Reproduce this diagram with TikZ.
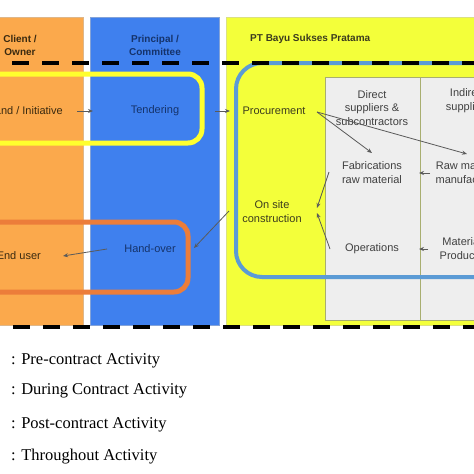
\documentclass[tikz,border=0pt]{standalone}
\usepackage{fontspec}
\setmainfont{Liberation Sans}
\newfontfamily\legendfont{Liberation Serif}
\usetikzlibrary{arrows.meta}
\definecolor{colOrange}{HTML}{FBA94C}
\definecolor{colBlue}{HTML}{3F80EE}
\definecolor{colYellow}{HTML}{F3FF3A}
\definecolor{loopYellow}{HTML}{FFFF2E}
\definecolor{loopOrange}{HTML}{EC7D3A}
\definecolor{loopBlue}{HTML}{5B9BD5}
\definecolor{boxGrey}{HTML}{EEEEEE}
\definecolor{boxEdge}{HTML}{A8AE70}
\definecolor{txtBrown}{HTML}{3A2A10}
\definecolor{txtNavy}{HTML}{15336B}
\definecolor{txtOlive}{HTML}{3C3C1E}
\definecolor{txtGrey}{HTML}{404040}
\definecolor{arrGrey}{HTML}{5A5A5A}
\tikzset{
  column/.style={draw=#1!80!black!60, line width=0.6pt},
  greybox/.style={fill=boxGrey, draw=boxEdge, line width=1pt},
  loopline/.style={line width=5pt, rounded corners=14pt},
  dashline/.style={line width=4pt, dash pattern=on 17pt off 13pt},
  head/.style={font=\fontsize{10}{13}\selectfont\bfseries, align=center, inner sep=0pt},
  lbl/.style={font=\fontsize{11}{14}\selectfont, align=center, inner sep=0pt},
  legend/.style={font=\legendfont\fontsize{16.5}{18}\selectfont, anchor=base west, inner sep=0pt, text=black},
  arr/.style={draw=arrGrey, line width=0.8pt, -{Stealth[length=5pt,width=4pt]}}
}
\begin{document}
\begin{tikzpicture}[x=1pt,y=-1pt]
\useasboundingbox (0,0) rectangle (474,474);
\fill[white] (0,0) rectangle (474,474);
\begin{scope}
\clip (0,0) rectangle (474,474);
% columns
\draw[column=colOrange, fill=colOrange] (-5,17) rectangle (83,325);
\draw[column=colBlue, fill=colBlue] (90,17) rectangle (219,325);
\draw[column=colYellow, fill=colYellow] (226,17) rectangle (480,325);
% grey boxes
\draw[greybox] (325,77) rectangle (420,320);
\draw[greybox] (420,77) rectangle (485,320);
% loops
\draw[line width=4pt, draw=loopBlue, rounded corners=26pt] (490,63) -- (236,63) -- (236,277) -- (490,277);
\draw[loopline, draw=loopYellow] (-20,74) -- (202,74) -- (202,143) -- (-20,143);
\draw[loopline, draw=loopOrange] (-20,222) -- (188,222) -- (188,292) -- (-20,292);
% dashed lines
\draw[dashline] (12,63) -- (480,63);
\draw[dashline] (13,327) -- (480,327);
% headers
\node[head, text=txtBrown] (client) at (20,45.5) {Client /\\Owner};
\node[head, text=txtNavy] (principal) at (155,45.5) {Principal /\\Committee};
\node[head, text=txtOlive, anchor=west] (pt) at (250,39) {PT Bayu Sukses Pratama};
% nodes
\node[lbl, text=txtBrown, anchor=east] (init) at (63,111) {Demand / Initiative};
\node[lbl, text=txtNavy] (tend) at (155,111) {Tendering};
\node[lbl, text=txtOlive] (proc) at (274,111) {Procurement};
\node[lbl, text=txtGrey, font=\fontsize{11}{13.5}\selectfont] (direct) at (372,108) {Direct\\suppliers \&\\subcontractors};
\node[lbl, text=txtGrey] (indirect) at (468,101) {Indirect\\suppliers};
\node[lbl, text=txtGrey] (fab) at (372,173) {Fabrications\\raw material};
\node[lbl, text=txtGrey] (rawman) at (468,173) {Raw material\\manufacturer};
\node[lbl, text=txtOlive] (onsite) at (272,212) {On site\\construction};
\node[lbl, text=txtGrey] (ops) at (372,249) {Operations};
\node[lbl, text=txtGrey] (matprod) at (462,249) {Material\\Producer};
\node[lbl, text=txtNavy] (handover) at (150,249) {Hand-over};
\node[lbl, text=txtBrown, anchor=east] (enduser) at (41,256) {End user};
% arrows
\draw[arr] ([xshift=14pt]init.east) -- ([xshift=-62pt]tend.center);
\draw[arr] ([xshift=60pt]tend.center) -- ([xshift=-44pt]proc.center);
\draw[arr] ([xshift=43pt,yshift=-1pt]proc.center) -- ([yshift=20pt]fab.center);
\draw[arr] ([xshift=43pt,yshift=-1pt]proc.center) -- ([xshift=-1pt,yshift=19pt]rawman.center);
\draw[arr] ([xshift=-38pt]rawman.center) -- ([xshift=47pt]fab.center);
\draw[arr] ([xshift=-43pt,yshift=1pt]fab.center) -- ([xshift=45pt,yshift=4pt]onsite.center);
\draw[arr] ([xshift=-42pt]ops.center) -- ([xshift=45pt,yshift=-1pt]onsite.center);
\draw[arr] ([xshift=-34pt]matprod.center) -- ([xshift=47pt]ops.center);
\draw[arr] ([xshift=-43pt,yshift=1pt]onsite.center) -- ([xshift=44pt,yshift=1pt]handover.center);
\draw[arr] ([xshift=-43pt]handover.center) -- ([xshift=22pt]enduser.east);
\end{scope}
% legend
\node[legend] (lg1) at (11,364) {: Pre-contract Activity};
\node[legend] (lg2) at (11,394) {: During Contract Activity};
\node[legend] (lg3) at (11,428) {: Post-contract Activity};
\node[legend] (lg4) at (11,460) {: Throughout Activity};
\end{tikzpicture}
\end{document}
